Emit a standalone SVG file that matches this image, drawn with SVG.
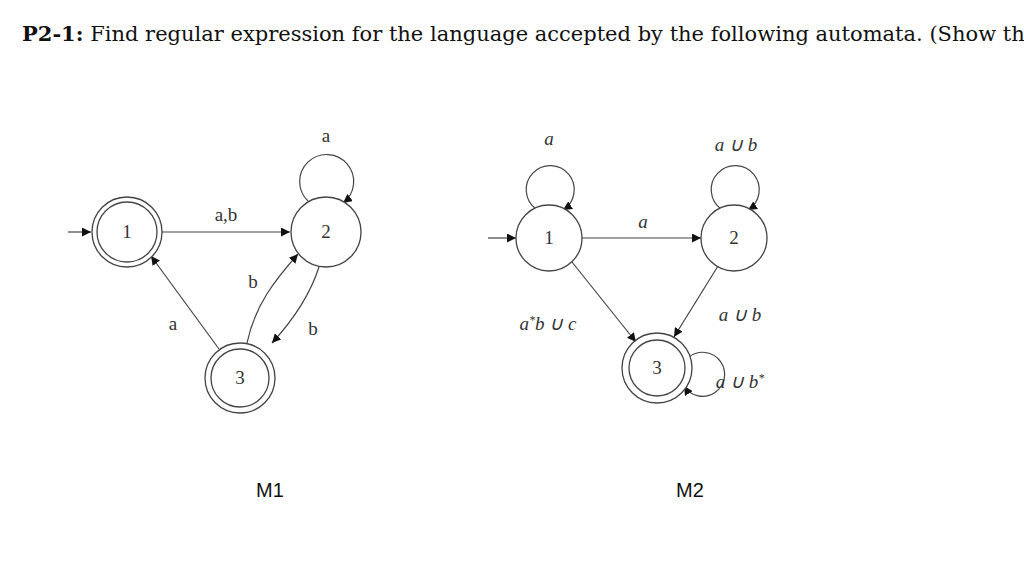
<svg xmlns="http://www.w3.org/2000/svg" width="1024" height="561" viewBox="0 0 1024 561">
<defs>
<marker id="ah" viewBox="0 0 10 10" refX="10" refY="5" markerWidth="9" markerHeight="9" orient="auto" markerUnits="userSpaceOnUse"><path d="M0,0 L10,5 L0,10 z" fill="#111"/></marker>
</defs>
<style>
.n{fill:#fff;stroke:#444;stroke-width:1.3}
.e{fill:none;stroke:#444;stroke-width:1.2;marker-end:url(#ah)}
.t{font-family:"Liberation Serif",serif;font-size:19px;fill:#333;text-anchor:middle}
.i{font-style:italic}
.h{font-family:"DejaVu Serif",serif;font-size:21px;fill:#111}
.m{font-family:"Liberation Sans",sans-serif;font-size:20px;fill:#111;text-anchor:middle}
</style>
<rect width="1024" height="561" fill="#fff"/>
<text class="h" x="22" y="41"><tspan font-weight="bold">P2-1:</tspan> Find regular expression for the language accepted by the following automata. (Show the steps.)</text>
<g id="connectors">
<path class="e" d="M68,232 L91,232"/>
<path class="e" d="M162,232 L290,232"/>
<path class="e" d="M308,201 A27,27 0 1 1 343,203"/>
<path class="e" d="M219,349 L151,256"/>
<path class="e" d="M247,343 C255,305 275,280 298,254"/>
<path class="e" d="M319,267 C310,295 295,318 272,343"/>
<path class="e" d="M488,238 L516,238"/>
<path class="e" d="M582,238 L701,238"/>
<path class="e" d="M536,209 A24,24 0 1 1 563,210"/>
<path class="e" d="M721,209 A24,24 0 1 1 748,210"/>
<path class="e" d="M572,262 L636,342"/>
<path class="e" d="M718,266 L674,337"/>
<path class="e" d="M689,357 A22,22 0 1 1 684,386"/>
</g>
<g id="m1-n1"><circle class="n" cx="127" cy="232" r="35"/><circle class="n" cx="127" cy="232" r="30"/><text class="t" x="127" y="238">1</text></g>
<g id="m1-n2"><circle class="n" cx="326" cy="232" r="35"/><text class="t" x="326" y="238">2</text></g>
<g id="m1-n3"><circle class="n" cx="240" cy="378" r="35"/><circle class="n" cx="240" cy="378" r="29"/><text class="t" x="240" y="384">3</text></g>
<g id="m1-labels">
<text class="t" x="326" y="142">a</text>
<text class="t" x="226" y="221">a,b</text>
<text class="t" x="253" y="288">b</text>
<text class="t" x="313" y="335">b</text>
<text class="t" x="173" y="330">a</text>
<text class="m" x="270" y="497">M1</text>
</g>
<g id="m2-n1"><circle class="n" cx="549" cy="238" r="33"/><text class="t" x="549" y="244">1</text></g>
<g id="m2-n2"><circle class="n" cx="734" cy="238" r="33"/><text class="t" x="734" y="244">2</text></g>
<g id="m2-n3"><circle class="n" cx="657" cy="368" r="35"/><circle class="n" cx="657" cy="368" r="28"/><text class="t" x="657" y="374">3</text></g>
<g id="m2-labels">
<text class="t i" x="549" y="145">a</text>
<text class="t i" x="736" y="151">a ∪ b</text>
<text class="t i" x="643" y="228">a</text>
<text class="t i" x="548" y="330">a<tspan font-size="12" dy="-6">*</tspan><tspan dy="6">b ∪ c</tspan></text>
<text class="t i" x="740" y="321">a ∪ b</text>
<text class="t i" x="740" y="388" text-anchor="start">a ∪ b<tspan font-size="12" dy="-6">*</tspan></text>
<text class="m" x="690" y="497">M2</text>
</g>
</svg>
